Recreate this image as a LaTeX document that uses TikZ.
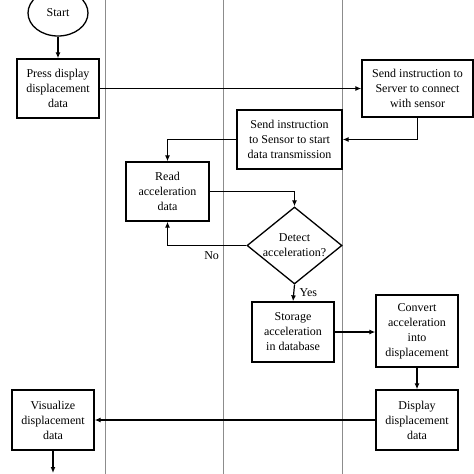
\documentclass[tikz,border=0pt]{standalone}
\usepackage{fontspec}
\setmainfont{Liberation Serif}
\usepackage{tikz}
\usetikzlibrary{positioning, shapes.geometric, arrows.meta}

\begin{document}
\begin{tikzpicture}[x=1pt, y=-1pt,
  flowbox/.style={rectangle, draw=black, fill=white, line width=1.3pt, inner sep=0pt, align=center, font=\fontsize{12}{15}\selectfont},
  startnode/.style={ellipse, draw=black, fill=white, line width=1.3pt, inner sep=0pt, minimum width=60pt, minimum height=46pt, font=\fontsize{12}{15}\selectfont},
  decisionnode/.style={diamond, draw=black, fill=white, line width=1.3pt, inner sep=-3pt, aspect=1.23, align=center, font=\fontsize{12}{15}\selectfont},
  lane/.style={draw=black!45, line width=0.8pt},
  flow/.style={line width=1.2pt, -{Latex[length=6pt, width=5pt]}}]

\clip (0,0) rectangle (474,474);
\fill[white] (0,0) rectangle (474,474);

% lanes
\draw[lane] (105,0) -- (105,474);
\draw[lane] (223,0) -- (223,474);
\draw[lane] (342,0) -- (342,474);

\node[startnode] at (58, 13) (1h0) {Start};
\node[flowbox, minimum width=82pt, minimum height=59pt] at (58, 88.5) (1h1) {Press display\\displacement\\data};
\node[flowbox, minimum width=111pt, minimum height=57pt] at (417.5, 88.5) (4h1) {Send instruction to\\Server to connect\\with sensor};
\node[flowbox, minimum width=105pt, minimum height=59pt] at (289.5, 139.5) (3h2) {Send instruction\\to Sensor to start\\data transmission};
\node[flowbox, minimum width=83pt, minimum height=59pt] at (167.5, 191.5) (2h3) {Read\\acceleration\\data};
\node[decisionnode, minimum width=95pt, minimum height=77pt] at (294.5, 245.5) (3h4) {Detect\\acceleration?};
\node[flowbox, minimum width=82pt, minimum height=60pt] at (293, 332) (3h5) {Storage\\acceleration\\in database};
\node[flowbox, minimum width=82pt, minimum height=72pt] at (417, 331) (4h5) {Convert\\acceleration\\into\\displacement};
\node[flowbox, minimum width=82pt, minimum height=60pt] at (417, 420) (4h6) {Display\\displacement\\data};
\node[flowbox, minimum width=82pt, minimum height=60pt] at (53, 420) (1h6) {Visualize\\displacement\\data};
\coordinate (1h7) at (53, 473);

\draw[flow] (1h0) -- (1h1);
\draw[flow] (1h1) -- (4h1);
\draw[flow] (4h1.south) |- (3h2.east);
\draw[flow] (3h2.west) -| (2h3.north);
\draw[flow] (2h3.east) -| (3h4.north);
\draw[flow] (3h4.west) -| (2h3.south) node[pos=0.22, below=2pt, font=\fontsize{12}{15}\selectfont] {No};
\draw[flow] (3h4.south) -- (3h5.north) node[midway, right=2pt, font=\fontsize{12}{15}\selectfont] {Yes};
\draw[flow] (3h5.east) -- (4h5.west |- 3h5.east);
\draw[flow] (4h5) -- (4h6);
\draw[flow] (4h6) -- (1h6);
\draw[flow] (1h6) -- (1h7);

\end{tikzpicture}
\end{document}
